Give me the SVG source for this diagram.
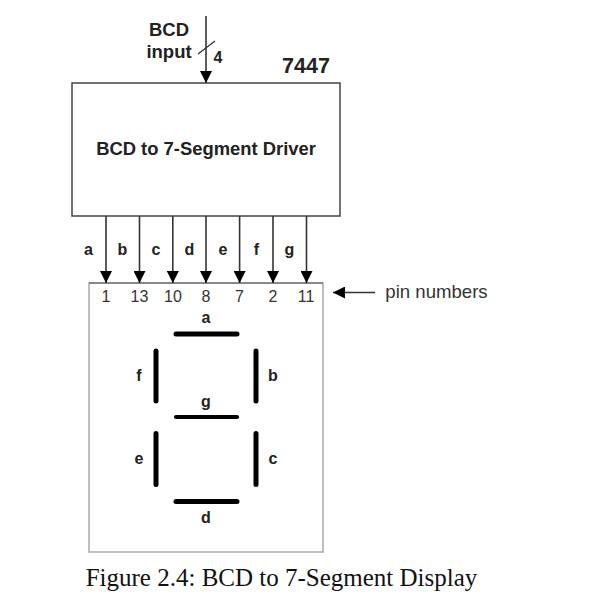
<svg xmlns="http://www.w3.org/2000/svg" width="591" height="613" viewBox="0 0 591 613">
<style>
text{font-family:"Liberation Sans",Arial,sans-serif;fill:#222;text-anchor:middle}
.b{font-weight:bold;font-size:16px}
.p{font-size:16px;fill:#333}
.w{stroke:#333;stroke-width:1.6;fill:none}
.s{stroke:#000;fill:none;stroke-linecap:round}
</style>
<defs><marker id="ah" markerUnits="userSpaceOnUse" markerWidth="13" markerHeight="12" refX="12" refY="6" orient="auto"><path d="M0 0L12 6L0 12Z" fill="#000"/></marker></defs>
<rect width="591" height="613" fill="#fff"/>
<g id="driver"><rect x="72" y="83" width="268" height="133" fill="#fff" stroke="#444" stroke-width="1.5"/>
<text x="206" y="155" style="font-weight:bold;font-size:18.400px">BCD to 7-Segment Driver</text>
<text x="306" y="73" style="font-weight:bold;font-size:21.500px">7447</text></g>
<g id="display"><rect x="89" y="283" width="234" height="269" fill="#fff" stroke="#aaa" stroke-width="1.5"/>
<path d="M89 283H323" stroke="#777" stroke-width="1.5" fill="none"/>
<g class="segments">
<path class="s" stroke-width="5" d="M176 334H237M176 501.500H237"/>
<path class="s" stroke-width="4.200" d="M176 417H237"/>
<path class="s" stroke-width="5" d="M156 351V401M256 351V401M156 433.500V484.500M256 433.500V484.500"/>
</g>
<text class="b" x="206" y="323">a</text><text class="b" x="273" y="381">b</text><text class="b" x="273" y="464">c</text><text class="b" x="206" y="523">d</text><text class="b" x="139" y="464">e</text><text class="b" x="139" y="381">f</text><text class="b" x="206" y="407">g</text>
<g class="pins"><text class="p" x="106" y="302">1</text><text class="p" x="139.500" y="302">13</text><text class="p" x="173" y="302">10</text><text class="p" x="206" y="302">8</text><text class="p" x="239.500" y="302">7</text><text class="p" x="273" y="302">2</text><text class="p" x="306" y="302">11</text></g></g>
<g id="connectors">
<path class="w" d="M206 16V83" marker-end="url(#ah)"/>
<path class="w" d="M198 54L215 41" style="stroke-width:1.3"/>
<path class="w" d="M106 216V283" marker-end="url(#ah)"/><path class="w" d="M139.500 216V283" marker-end="url(#ah)"/><path class="w" d="M172.800 216V283" marker-end="url(#ah)"/><path class="w" d="M206 216V283" marker-end="url(#ah)"/><path class="w" d="M239.600 216V283" marker-end="url(#ah)"/><path class="w" d="M273 216V283" marker-end="url(#ah)"/><path class="w" d="M306.500 216V283" marker-end="url(#ah)"/>
<path class="w" d="M375 292.500H333" marker-end="url(#ah)"/>
</g>
<g id="labels">
<text class="b" x="169" y="36" style="font-size:18.500px">BCD</text><text class="b" x="169" y="58" style="font-size:18.500px">input</text>
<text class="b" x="218" y="63">4</text>
<text class="b" x="88.500" y="255">a</text><text class="b" x="122.500" y="255">b</text><text class="b" x="156" y="255">c</text><text class="b" x="189.500" y="255">d</text><text class="b" x="223" y="255">e</text><text class="b" x="256.500" y="255">f</text><text class="b" x="289.500" y="255">g</text>
<text x="436.500" y="298" style="font-size:18.600px;fill:#333">pin numbers</text>
<text x="281.500" y="586" style="font-family:'Liberation Serif',serif;font-size:25px;fill:#111">Figure 2.4: BCD to 7-Segment Display</text>
</g>
</svg>
